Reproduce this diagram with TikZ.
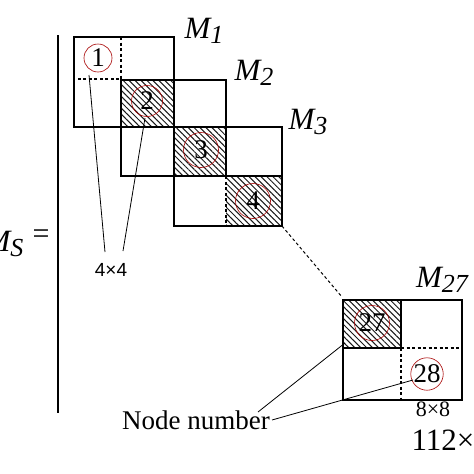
\documentclass[tikz,border=0pt]{standalone}
\usepackage{fontspec}
\setmainfont{Liberation Serif}
\newfontfamily\sansf{Liberation Sans}
\usetikzlibrary{patterns.meta}
\begin{document}
\begin{tikzpicture}[x=1pt,y=-1pt,
  boxline/.style={line width=1.4pt},
  dashline/.style={line width=1.2pt,dash pattern=on 3pt off 2.5pt},
  hatch/.style={pattern={Lines[angle=-45,distance=4.2pt,line width=1pt]},pattern color=black!90},
  numc/.style={circle,draw=red!65!black,line width=0.6pt,minimum size=#1,inner sep=0pt,font=\fontsize{27}{27}\selectfont},
  mlab/.style={font=\fontsize{31}{31}\selectfont\itshape},
  leader/.style={line width=0.8pt}]
\useasboundingbox (0,0) rectangle (474,474);
% hatched cells
\fill[hatch] (121,80) rectangle (174,127);
\fill[hatch] (174,127) rectangle (226,176);
\fill[hatch] (226,176) rectangle (282,226);
\fill[hatch] (343,300) rectangle (401,348);
% big bar
\draw[line width=2pt] (58,35) -- (58,413);
% M1
\draw[boxline] (74,37) rectangle (174,127);
\draw[dashline] (121,37) -- (121,79) -- (74,79);
% M2
\draw[boxline] (121,80) rectangle (226,176);
\draw[boxline] (121,127) -- (226,127);
\draw[boxline] (174,80) -- (174,176);
% M3
\draw[boxline] (174,127) rectangle (282,226);
\draw[boxline] (174,176) -- (282,176);
\draw[dashline] (226,176) -- (226,226);
% M27
\draw[boxline] (343,300) rectangle (462,400);
\draw[boxline] (343,348) -- (401,348);
\draw[boxline] (401,300) -- (401,348);
\draw[dashline] (401,348) -- (462,348);
\draw[dashline] (401,348) -- (401,400);
% diagonal continuation
\coordinate (m3c) at (282,226);
\coordinate (m27c) at (342,297);
\draw[dashline,line width=1pt] (m3c) -- (m27c);
% numbers
\node[numc=28pt] (c1) at (98,58) {1};
\node[numc=31pt] (c2) at (147,101) {2};
\node[numc=35pt] (c3) at (201,150) {3};
\node[numc=35pt] (c4) at (253,201) {4};
\node[numc=35pt] (c27) at (372,323) {27};
\node[numc=31pt] (c28) at (427,374) {28};
% labels
\newcommand{\msub}[2]{M\raisebox{-5pt}{\fontsize{#2}{#2}\selectfont #1}}
\node[mlab] (m1) at (204,31) {\msub{1}{26}};
\node[mlab] (m2) at (254,73) {\msub{2}{26}};
\node[mlab] (m3) at (308,122) {\msub{3}{26}};
\node[mlab] (m27) at (442,280) {\msub{27}{26}};
\node[mlab,anchor=east] (ms) at (27,244) {\msub{S}{26}};
\node[font=\fontsize{30}{30}\selectfont] (eq) at (41,237) {=};
\node[font=\sansf\fontsize{19}{19}\selectfont] (f44) at (111,270) {4×4};
\node[font=\fontsize{22}{22}\selectfont] (e88) at (433,409) {8×8};
\node[font=\fontsize{31}{31}\selectfont,anchor=west] (n112) at (408,440) {112×};
\node[font=\fontsize{27}{27}\selectfont] (nn) at (196,420) {Node number};
% leaders
\coordinate (a1) at (89,75);
\coordinate (a2) at (145,118);
\coordinate (b1) at (105,252);
\coordinate (b2) at (123,251);
\draw[leader] (a1) -- (b1);
\draw[leader] (a2) -- (b2);
\coordinate (n1) at (258,412);
\coordinate (n2) at (272,420);
\coordinate (t27) at (345,343);
\coordinate (t28) at (413,380);
\draw[leader] (n1) -- (t27);
\draw[leader] (n2) -- (t28);
\end{tikzpicture}
\end{document}
